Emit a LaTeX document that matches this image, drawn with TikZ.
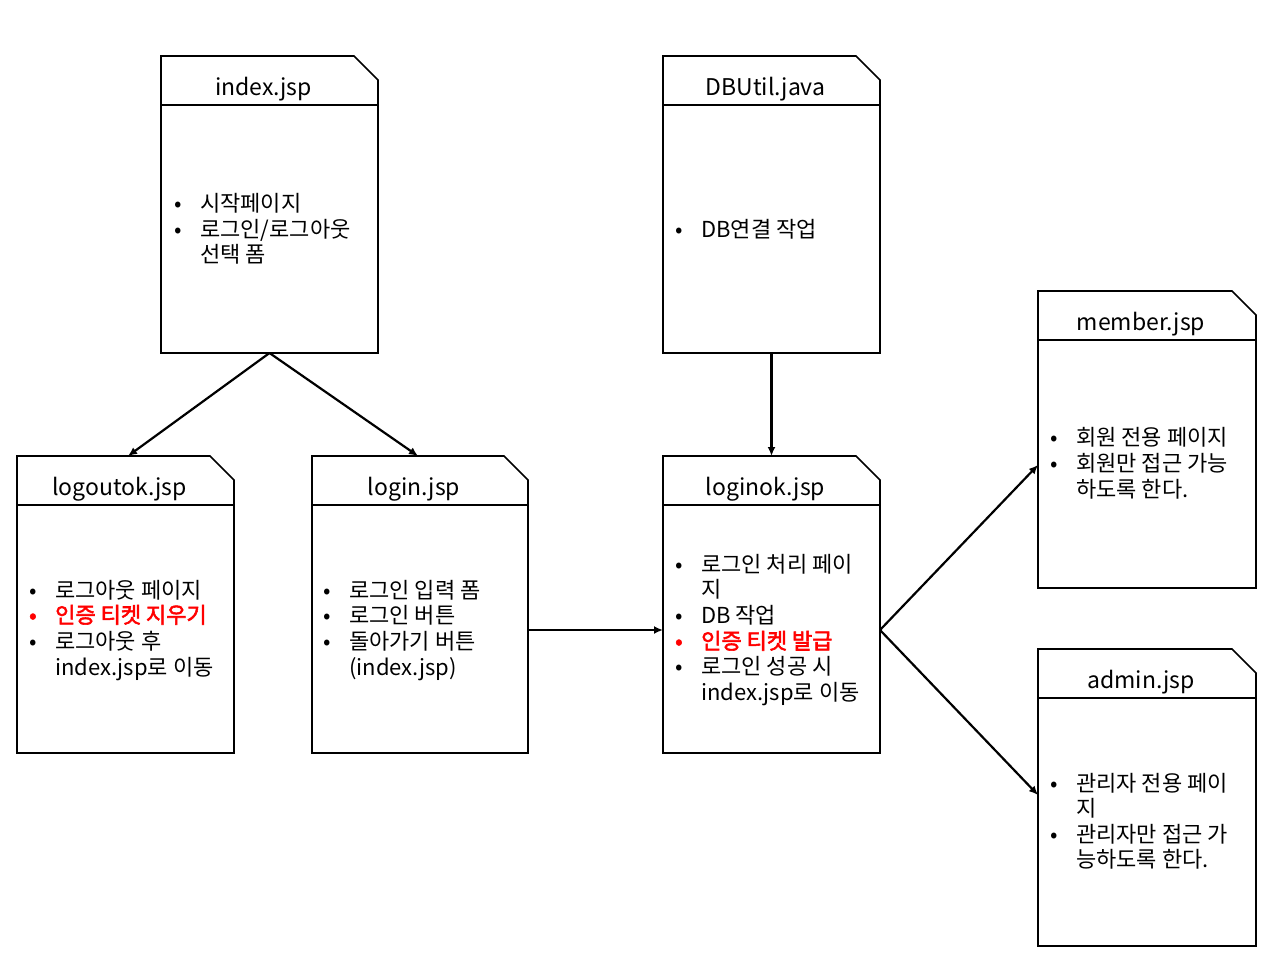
\documentclass[tikz,border=0pt]{standalone}
\usepackage{fontspec}
\usetikzlibrary{arrows.meta}
\setmainfont{Noto Sans CJK KR}[AutoFakeBold=2.5]
\begin{document}
\begin{tikzpicture}[x=1pt,y=-1pt,
  doc/.style={draw,line width=1.6pt},
  arr/.style={line width=2.2pt,-{Latex[length=9pt,width=8pt]}},
  ttl/.style={font=\fontsize{23}{26}\selectfont,anchor=base},
  ln/.style={font=\fontsize{22}{26}\selectfont,anchor=base west,inner sep=0pt},
  red/.style={text=red,font=\fontsize{22}{26}\selectfont\bfseries}]
\useasboundingbox (0,0) rectangle (1280,964);
\newcommand\docbox[6]{% name x1 y1 x2 y2 title
  \draw[doc] (#2,#3) -- (#4-24,#3) -- (#4,#3+24) -- (#4,#5) -- (#2,#5) -- cycle;
  \draw[doc] (#2,#3+49) -- (#4,#3+49);
  \node[ttl] (#1t) at ({(#2+#4)/2-6},#3+39) {#6};
  \coordinate (#1top) at ({(#2+#4)/2},#3);
  \coordinate (#1bot) at ({(#2+#4)/2},#5);
  \coordinate (#1l) at (#2,630);
  \coordinate (#1r) at (#4,630);}
\newcommand\bul[4][]{\node[ln,#1] at (#2-26,#3) {•}; \node[ln,#1] at (#2,#3) {#4};}
\newcommand\cont[3]{\node[ln] at (#1,#2) {#3};}
\docbox{ix}{161}{56}{378}{353}{index.jsp}
\docbox{db}{663}{56}{880}{353}{DBUtil.java}
\docbox{lo}{17}{456}{234}{753}{logoutok.jsp}
\docbox{li}{312}{456}{528}{753}{login.jsp}
\docbox{lk}{663}{456}{880}{753}{loginok.jsp}
\docbox{me}{1038}{291}{1256}{588}{member.jsp}
\docbox{ad}{1038}{649}{1256}{946}{admin.jsp}
\bul{200}{211}{시작페이지}
\bul{200}{237}{로그인/로그아웃}
\cont{200}{262}{선택 폼}
\bul{701}{237}{DB연결 작업}
\bul{55}{598}{로그아웃 페이지}
\bul[red]{55}{623}{인증 티켓 지우기}
\bul{55}{649}{로그아웃 후}
\cont{55}{675}{index.jsp로 이동}
\bul{349}{598}{로그인 입력 폼}
\bul{349}{623}{로그인 버튼}
\bul{349}{649}{돌아가기 버튼}
\cont{349}{675}{(index.jsp)}
\bul{701}{572}{로그인 처리 페이}
\cont{701}{597}{지}
\bul{701}{623}{DB 작업}
\bul[red]{701}{649}{인증 티켓 발급}
\bul{701}{674}{로그인 성공 시}
\cont{701}{700}{index.jsp로 이동}
\bul{1076}{445}{회원 전용 페이지}
\bul{1076}{471}{회원만 접근 가능}
\cont{1076}{497}{하도록 한다.}
\bul{1076}{791}{관리자 전용 페이}
\cont{1076}{816}{지}
\bul{1076}{842}{관리자만 접근 가}
\cont{1076}{867}{능하도록 한다.}
\draw[arr] (ixbot) -- (128,456);
\draw[arr] (ixbot) -- (418,456);
\draw[arr] (dbbot) -- (lktop);
\draw[arr] (lir) -- (lkl);
\draw[arr] (lkr) -- (1038,465);
\draw[arr] (lkr) -- (1038,795);
\end{tikzpicture}
\end{document}
